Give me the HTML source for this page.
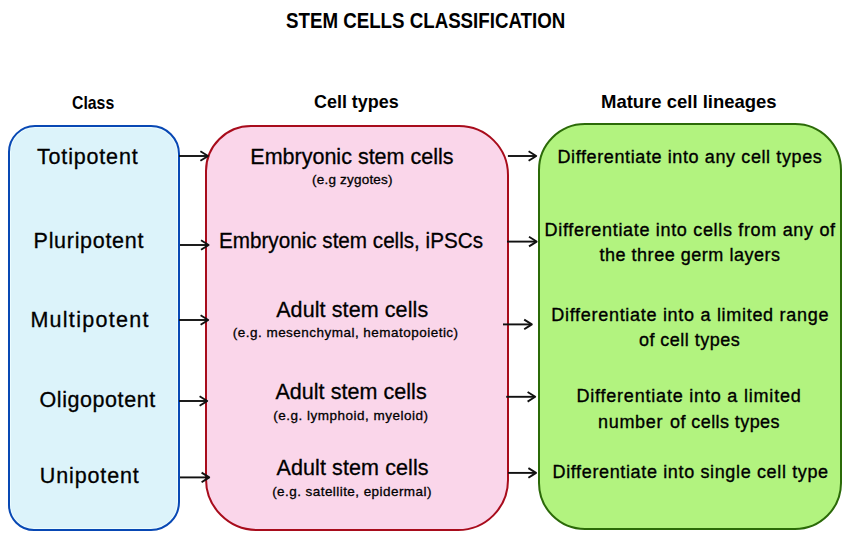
<!DOCTYPE html>
<html><head><meta charset="utf-8"><title>Stem cells classification</title>
<style>
html,body{margin:0;padding:0;background:#fff;}
body{width:850px;height:538px;position:relative;overflow:hidden;font-family:"Liberation Sans",sans-serif;color:#000;}
.box{position:absolute;box-sizing:border-box;}
.t{position:absolute;white-space:pre;line-height:1;transform-origin:0 0;-webkit-text-stroke:0.3px #000;}
.s{-webkit-text-stroke:0.3px #000;}
.g{-webkit-text-stroke:0.35px #000;}
.b{-webkit-text-stroke:0;}
svg{position:absolute;left:0;top:0;}
</style></head><body>

<div class="box" style="left:8.1px;top:124.5px;width:172.20000000000002px;height:406.70000000000005px;border:2.3px solid #0848b4;border-radius:27px 29px 29px 26px;background:#dcf3fa;box-shadow:inset 0 0 0 1px #ecfcff"></div>
<div class="box" style="left:204.5px;top:124.6px;width:304.6px;height:406.4px;border:2.5px solid #a80c1c;border-radius:46px 50px 51px 52px;background:#fad6ea;"></div>
<div class="box" style="left:537.6px;top:123.2px;width:304.4px;height:406.90000000000003px;border:2.8px solid #2b6a08;border-radius:47px;background:#b2f37f;"></div>
<svg width="850" height="538" viewBox="0 0 850 538"><g fill="none" stroke="#111" stroke-width="1.9" stroke-linecap="butt" stroke-linejoin="round"><path d="M179.0 156.0H207.3" /><path d="M200.4 151.2Q205.0 154.0 208.0 156.0Q205.0 158.0 200.4 160.8" /><path d="M180.0 245.0H207.9" /><path d="M201.0 240.2Q205.6 243.0 208.6 245.0Q205.6 247.0 201.0 249.8" /><path d="M179.0 320.0H207.5" /><path d="M200.6 315.2Q205.2 318.0 208.2 320.0Q205.2 322.0 200.6 324.8" /><path d="M179.0 401.0H206.5" /><path d="M199.6 396.2Q204.2 399.0 207.2 401.0Q204.2 403.0 199.6 405.8" /><path d="M180.0 477.4H208.5" /><path d="M201.6 472.6Q206.2 475.4 209.2 477.4Q206.2 479.4 201.6 482.2" /><path d="M507.9 156.0H535.5" /><path d="M528.6 151.2Q533.2 154.0 536.2 156.0Q533.2 158.0 528.6 160.8" /><path d="M507.0 241.6H535.9" /><path d="M529.0 236.8Q533.6 239.6 536.6 241.6Q533.6 243.6 529.0 246.4" /><path d="M503.0 324.4H531.1" /><path d="M524.2 319.6Q528.8 322.4 531.8 324.4Q528.8 326.4 524.2 329.2" /><path d="M506.2 396.8H534.5" /><path d="M527.6 392.0Q532.2 394.8 535.2 396.8Q532.2 398.8 527.6 401.6" /><path d="M508.0 472.9H535.3" /><path d="M528.4 468.1Q533.0 470.9 536.0 472.9Q533.0 474.9 528.4 477.7" /></g></svg>
<div class="t b" style="left:286.27px;top:10.30px;font-size:22.5px;font-weight:700;transform:scaleX(0.8315)">STEM CELLS CLASSIFICATION</div>
<div class="t b" style="left:72.37px;top:92.80px;font-size:19px;font-weight:700;transform:scaleX(0.8327)">Class</div>
<div class="t b" style="left:314.06px;top:92.40px;font-size:19px;font-weight:700;transform:scaleX(0.9432)">Cell types</div>
<div class="t b" style="left:600.83px;top:92.40px;font-size:19px;font-weight:700;transform:scaleX(0.9726)">Mature cell lineages</div>
<div class="t" style="left:37.00px;top:146.50px;font-size:21.5px;font-weight:400;letter-spacing:0.822px">Totipotent</div>
<div class="t" style="left:33.60px;top:231.00px;font-size:21.5px;font-weight:400;letter-spacing:0.700px">Pluripotent</div>
<div class="t" style="left:30.40px;top:310.40px;font-size:21.5px;font-weight:400;letter-spacing:1.280px">Multipotent</div>
<div class="t" style="left:39.50px;top:389.50px;font-size:21.5px;font-weight:400;letter-spacing:0.570px">Oligopotent</div>
<div class="t" style="left:39.80px;top:465.90px;font-size:21.5px;font-weight:400;letter-spacing:0.875px">Unipotent</div>
<div class="t" style="left:250.30px;top:147.00px;font-size:21.5px;font-weight:400;letter-spacing:0.005px">Embryonic stem cells</div>
<div class="t s" style="left:312.00px;top:173.00px;font-size:13.5px;font-weight:400;letter-spacing:0.208px">(e.g zygotes)</div>
<div class="t" style="left:218.88px;top:231.30px;font-size:21.5px;font-weight:400;transform:scaleX(0.9607)">Embryonic stem cells, iPSCs</div>
<div class="t" style="left:276.20px;top:300.40px;font-size:21.5px;font-weight:400;letter-spacing:0.093px">Adult stem cells</div>
<div class="t s" style="left:232.80px;top:326.40px;font-size:13.5px;font-weight:400;letter-spacing:0.475px">(e.g. mesenchymal, hematopoietic)</div>
<div class="t" style="left:275.40px;top:382.10px;font-size:21.5px;font-weight:400;letter-spacing:0.047px">Adult stem cells</div>
<div class="t s" style="left:273.20px;top:408.70px;font-size:13.5px;font-weight:400;letter-spacing:0.496px">(e.g. lymphoid, myeloid)</div>
<div class="t" style="left:276.50px;top:458.00px;font-size:21.5px;font-weight:400;letter-spacing:0.100px">Adult stem cells</div>
<div class="t s" style="left:272.20px;top:484.90px;font-size:13.5px;font-weight:400;letter-spacing:0.438px">(e.g. satellite, epidermal)</div>
<div class="t g" style="left:557.50px;top:148.30px;font-size:18px;font-weight:400;letter-spacing:0.609px">Differentiate into any cell types</div>
<div class="t g" style="left:544.60px;top:221.00px;font-size:18px;font-weight:400;letter-spacing:0.677px">Differentiate into cells from any of</div>
<div class="t g" style="left:599.40px;top:245.90px;font-size:18px;font-weight:400;letter-spacing:0.530px">the three germ layers</div>
<div class="t g" style="left:551.30px;top:305.60px;font-size:18px;font-weight:400;letter-spacing:0.706px">Differentiate into a limited range</div>
<div class="t g" style="left:638.90px;top:330.70px;font-size:18px;font-weight:400;letter-spacing:0.475px">of cell types</div>
<div class="t g" style="left:576.40px;top:387.40px;font-size:18px;font-weight:400;letter-spacing:0.800px">Differentiate into a limited</div>
<div class="t g" style="left:598.10px;top:412.60px;font-size:18px;font-weight:400;letter-spacing:0.660px">number</div>
<div class="t g" style="left:670.00px;top:412.60px;font-size:18px;font-weight:400;letter-spacing:0.423px">of cells types</div>
<div class="t g" style="left:552.50px;top:463.30px;font-size:18px;font-weight:400;letter-spacing:0.641px">Differentiate into single cell type</div>
</body></html>
